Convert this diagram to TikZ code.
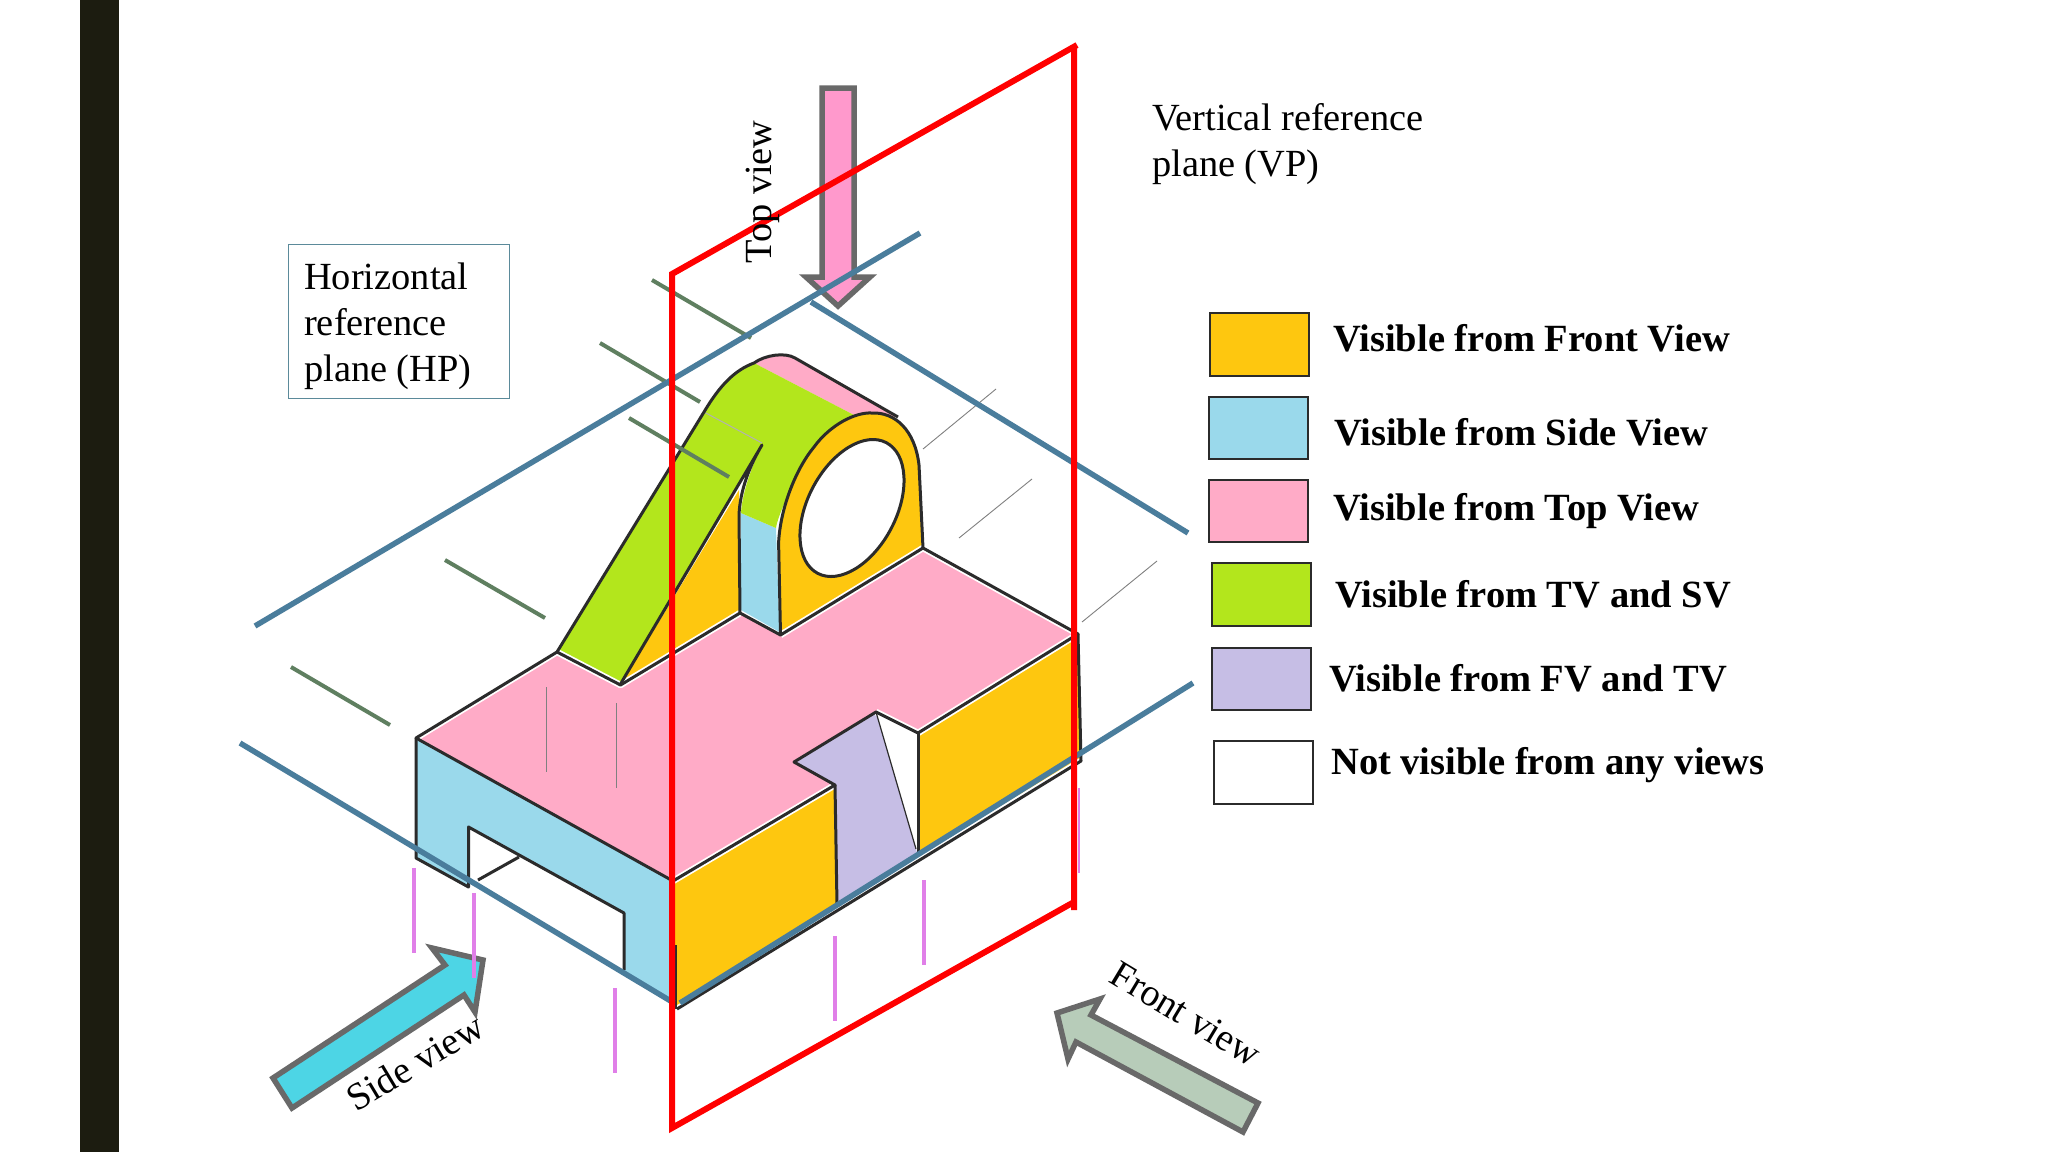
\documentclass[tikz,border=0pt]{standalone}
\usepackage{fontspec}
\setmainfont{Liberation Serif}
\definecolor{cOrange}{HTML}{FEC70F}
\definecolor{cBlue}{HTML}{9AD9EB}
\definecolor{cPink}{HTML}{FFABC7}
\definecolor{cGreen}{HTML}{B3E61C}
\definecolor{cLav}{HTML}{C6BEE5}
\definecolor{cEdge}{HTML}{2B2B2B}
\definecolor{cPlane}{HTML}{4A7D9C}
\definecolor{cTick}{HTML}{5F7F60}
\definecolor{cMag}{HTML}{E07FE8}
\definecolor{cBar}{HTML}{1C1C10}
\definecolor{cArrow}{HTML}{696969}
\definecolor{cSideA}{HTML}{4DD5E5}
\definecolor{cFrontA}{HTML}{B7CCB9}
\definecolor{cTopA}{HTML}{FF99CC}
\definecolor{cHPbox}{HTML}{5B8A9A}
\tikzset{
  edgeline/.style={draw=cEdge,line width=3pt,line join=round},
  halo/.style={draw=white,line width=6.5pt,line join=round},
  planeline/.style={draw=cPlane,line width=5.5pt},
  redline/.style={draw=red,line width=6pt,line join=miter},
  ticka/.style={draw=cTick,line width=4pt},
  tickb/.style={draw=cMag,line width=4.5pt},
  thin grey/.style={draw=gray,line width=0.9pt},
  viewarrow/.style={draw=cArrow,line width=5.5pt,line join=miter},
  legendbox/.style={draw=cEdge,line width=1.6pt},
  legendtext/.style={anchor=west,inner sep=0pt,font=\fontsize{38.5}{42}\selectfont\bfseries},
  plaintext/.style={inner sep=0pt,font=\fontsize{38.4}{46}\selectfont},
}
\begin{document}
\begin{tikzpicture}[x=1pt,y=-1pt]
\useasboundingbox (0,0) rectangle (2048,1152);
\fill[white] (0,0) rectangle (2048,1152);
\fill[cBar] (80,0) rectangle (119,1152);

% construction lines and ticks behind the object
\draw[ticka] (652,280) -- (751,338);
\draw[ticka] (445,560) -- (545,618);
\draw[ticka] (291,667) -- (390,725);
\draw[ticka] (600,343) -- (700,402);
\draw[thin grey] (996,389) -- (923,449);
\draw[thin grey] (1032,479) -- (959,538);
\draw[thin grey] (1157,561) -- (1082,622);

% view arrows
\draw[viewarrow,fill=cSideA] (273,1078) -- (445,965) -- (432,948) -- (483,960) -- (475,1012) -- (464,995) -- (292,1108) -- cycle;
\draw[viewarrow,fill=cFrontA] (1258,1103) -- (1091,1015) -- (1100,999) -- (1057,1013) -- (1068,1059) -- (1076,1042) -- (1243,1132) -- cycle;
\draw[viewarrow,fill=cTopA] (822,88) -- (854,88) -- (854,277) -- (870,277) -- (838,306) -- (806,277) -- (822,277) -- cycle;

% base: top face
\fill[cPink] (416,738) -- (557,652) -- (620.5,685) -- (740,613) -- (780.5,635) -- (923,548) -- (1078,634) -- (918,733) -- (876,712) -- (794,762) -- (835,785) -- (673,881) -- cycle;
% base: side face
\fill[cBlue] (416,738) -- (673,881) -- (673,1003) -- (624,970) -- (624,913) -- (468.5,827) -- (468.5,887) -- (416,858) -- cycle;
% base: front faces
\fill[cOrange] (673,881) -- (835,785) -- (837,905) -- (677,1005) -- cycle;
\fill[cOrange] (918,733) -- (1078,634) -- (1081,757) -- (918,856) -- cycle;
\fill[cLav] (876,712) -- (794,762) -- (835,785) -- (837,905) -- (918,856) -- cycle;
\fill[white] (876,712) -- (918,733) -- (918,849) -- cycle;

% upright block: faces
\fill[cOrange] (620.5,685) -- (739,490) -- (740,613) -- cycle;
\fill[cBlue] (741,513) -- (776,528) -- (779.5,632) -- (741,610) -- cycle;
\fill[cPink] (754,363) .. controls (765,355) and (785,352) .. (795,358) -- (898,417) -- (854,415) -- cycle;
\fill[cGreen] (557,652) -- (704,412) .. controls (720,385) and (735,370) .. (754,363) -- (854,415) .. controls (830,425) and (812,445) .. (803,465) .. controls (790,490) and (778,515) .. (776,528) -- (741,513) .. controls (742,495) and (750,470) .. (762,445) -- (620.5,684) -- cycle;
\draw[draw=gray!60,line width=1pt] (704,412) -- (762,443);
\fill[cOrange] (780.5,635) -- (778.6,543) .. controls (780,510) and (795,470) .. (814,447) .. controls (830,425) and (855,412) .. (872,413) .. controls (895,412) and (915,430) .. (919,465) -- (923,548) -- cycle;
\draw[edgeline,fill=white,rotate around={62.3:(852,508)}] (852,508) ellipse [x radius=73.8, y radius=44.2];

% outlines
\draw[halo] (416,738) -- (557,652) -- (620.5,685) -- (740,613) (780.5,635) -- (923,548) -- (1078,634) -- (918,733) -- (876,712) (673,881) -- (835,785);
\draw[edgeline] (416,738) -- (557,652) -- (620.5,685) -- (740,613) -- (780.5,635) -- (923,548) -- (1078,634) -- (918,733) -- (876,712) -- (794,762) -- (835,785) -- (673,881) -- cycle;
\draw[edgeline] (416,738) -- (416,858) -- (468.5,887) -- (468.5,827) -- (624,913) -- (624,970);
\draw[edgeline] (478,880) -- (519,857);
\draw[edgeline] (1078,634) -- (1081,761) -- (677,1009);
\draw[draw=cEdge,line width=2pt] (676,945) -- (676,1009);
\draw[edgeline] (835,785) -- (837,905);
\draw[edgeline] (918,733) -- (918,856);
\draw[draw=cEdge,line width=1.2pt] (876,712) -- (916,849);
\draw[edgeline] (557,652) -- (704,412) .. controls (720,385) and (735,370) .. (754,363) .. controls (765,355) and (785,352) .. (795,358) -- (898,417);
\draw[edgeline] (620.5,684) -- (762,445) .. controls (750,465) and (740,490) .. (739,515) -- (740,613);
\draw[edgeline] (780.5,635) -- (778.6,543) .. controls (780,510) and (795,470) .. (814,447) .. controls (830,425) and (855,412) .. (872,413) .. controls (895,412) and (915,430) .. (919,465) -- (923,548);

% thin lines and ticks over the object
\draw[thin grey] (546,687) -- (546,772);
\draw[thin grey] (616,703) -- (616,788);
\draw[ticka] (629,418) -- (729,477);

% reference planes
\draw[planeline] (255,626) -- (920,233);
\draw[planeline] (240,743) -- (674,1003);
\draw[planeline] (811,302) -- (1188,533);
\draw[planeline] (680,1003) -- (1193,683);

% projection ticks
\draw[tickb] (414,868) -- (414,953);
\draw[tickb] (474,893) -- (474,978);
\draw[tickb] (615,988) -- (615,1073);
\draw[tickb] (835,936) -- (835,1021);
\draw[tickb] (924,880) -- (924,965);
\draw[draw=cMag,line width=2pt] (1079,788) -- (1079,873);

% vertical plane
\draw[redline] (1074,910) -- (1074,46) (1077,45) -- (672,274) -- (672,1128) -- (1074,902);

% labels
\node[plaintext,rotate=90] (lblTop) at (763,192) {Top view};
\node[plaintext,rotate=31] (lblSide) at (415,1062) {Side view};
\node[plaintext,rotate=-31] (lblFront) at (1186,1014) {Front view};
\node[plaintext,anchor=north west,align=left] (lblVP) at (1152,103) {Vertical reference\\plane (VP)};
\node[draw=cHPbox,line width=1.3pt,minimum width=221pt,minimum height=154pt,anchor=north west] (boxHP) at (288,244) {};
\node[plaintext,anchor=north west,align=left] (lblHP) at (304,263) {Horizontal\\reference\\plane (HP)};

% legend
\draw[legendbox,fill=cOrange] (1210,313) rectangle (1309,376);
\draw[legendbox,fill=cBlue] (1209,397) rectangle (1308,459);
\draw[legendbox,fill=cPink] (1209,480) rectangle (1308,542);
\draw[legendbox,fill=cGreen] (1212,563) rectangle (1311,626);
\draw[legendbox,fill=cLav] (1212,648) rectangle (1311,710);
\draw[legendbox,fill=white] (1214,741) rectangle (1313,804);
\node[legendtext] (leg1) at (1333,338) {Visible from Front View};
\node[legendtext] (leg2) at (1334,432) {Visible from Side View};
\node[legendtext] (leg3) at (1333,511) {Visible from Top View};
\node[legendtext] (leg4) at (1335,594) {Visible from TV and SV};
\node[legendtext] (leg5) at (1329,678) {Visible from FV and TV};
\node[legendtext] (leg6) at (1331,765) {Not visible from any views};
\end{tikzpicture}
\end{document}
